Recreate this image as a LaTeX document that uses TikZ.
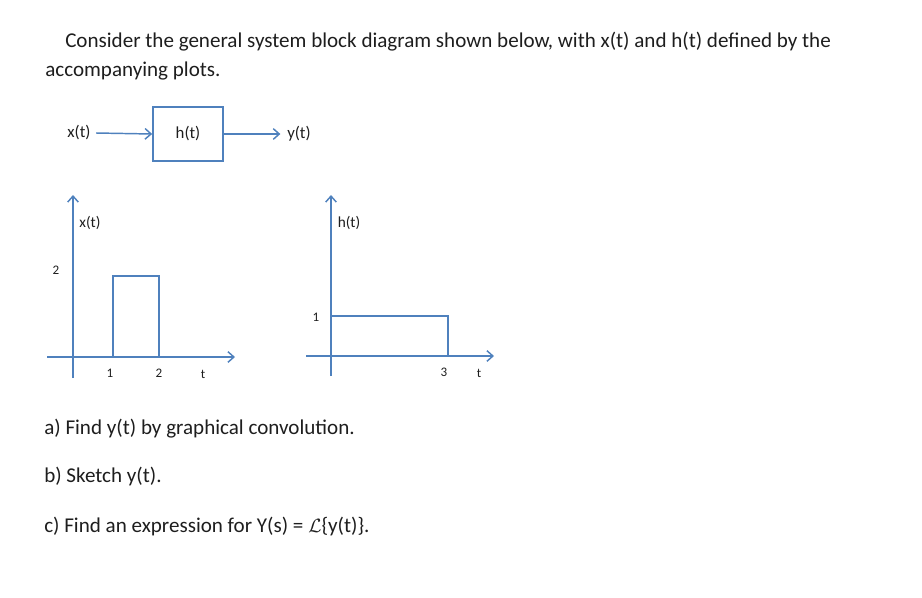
\documentclass[tikz,border=0pt]{standalone}
\usepackage{amsmath}
\usepackage{amssymb}
\usepackage{fontspec}
\setmainfont{Carlito}
\usetikzlibrary{arrows.meta}

\definecolor{lineblue}{RGB}{79,129,189}
\definecolor{textgray}{RGB}{30,30,30}

\begin{document}
\begin{tikzpicture}
    [x = 0.75pt, y = -0.75pt, auto=center,
     every node/.style = {inner sep = 0pt, text = textgray},
     body/.style = {anchor = base west, font = \fontsize{15.8}{18}\selectfont},
     sig/.style = {font = \fontsize{12.6}{14}\selectfont},
     lab/.style = {font = \fontsize{11.5}{13}\selectfont},
     tick/.style = {font = \fontsize{9.8}{11}\selectfont},
     wire/.style = {draw = lineblue, line width = 1.1pt},
     arr/.style = {wire, -{Straight Barb[length=4.5pt,width=8pt,line width=1.1pt]}}]
    \useasboundingbox (0,0) rectangle (922,597);

    % question text
    \node[body] (q1) at (65,47) {Consider the general system block diagram shown below, with x(t) and h(t) defined by the};
    \node[body] (q2) at (45,76) {accompanying plots.};

    % block diagram
    \node[sig] (xin) at (79,133) {x(t)};
    \node[sig, draw = lineblue, line width = 1.3pt, minimum width = 52.5pt, minimum height = 40pt] (hbox) at (188,134) {h(t)};
    \node[sig] (yout) at (299,134) {y(t)};
    \draw[arr] (xin.east) ++(4pt,0) -- (hbox.west);
    \draw[arr] (hbox.east) -- ([xshift=-5pt]yout.west);

    % plot of x(t)
    \coordinate (o1) at (73,357);
    \coordinate (xl) at (47,357);
    \coordinate (xr) at (235,357);
    \coordinate (xb) at (73,378);
    \coordinate (xt) at (73,195);
    \draw[arr] (xl) -- (xr);
    \draw[arr] (xb) -- (xt);
    \draw[wire, line width = 0.9pt] (113,357) -- (113,276) -- (159,276) -- (159,357);
    \node[lab] (xlab) at (90,223) {x(t)};
    \node[tick] (x2) at (56,270) {2};
    \node[tick] (x1) at (110,373) {1};
    \node[tick] (x2b) at (159,373) {2};
    \node[tick] (xt1) at (203,374) {t};

    % plot of h(t)
    \coordinate (o2) at (331,356);
    \coordinate (hl) at (306,356);
    \coordinate (hr) at (494,356);
    \coordinate (hb) at (331,376);
    \coordinate (ht) at (331,195);
    \draw[arr] (hl) -- (hr);
    \draw[arr] (hb) -- (ht);
    \draw[wire, line width = 0.9pt] (331,316) -- (448,316) -- (448,356);
    \node[lab] (hlab) at (349,223) {h(t)};
    \node[tick] (h1) at (316,317) {1};
    \node[tick] (h3) at (444,372) {3};
    \node[tick] (ht1) at (479,373) {t};

    % parts
    \node[body] (pa) at (44,434) {a) Find y(t) by graphical convolution.};
    \node[body] (pb) at (44,482) {b) Sketch y(t).};
    \node[body] (pc) at (44,532) {c) Find an expression for Y(s) = $\mathcal{L}$\{y(t)\}.};
\end{tikzpicture}
\end{document}
